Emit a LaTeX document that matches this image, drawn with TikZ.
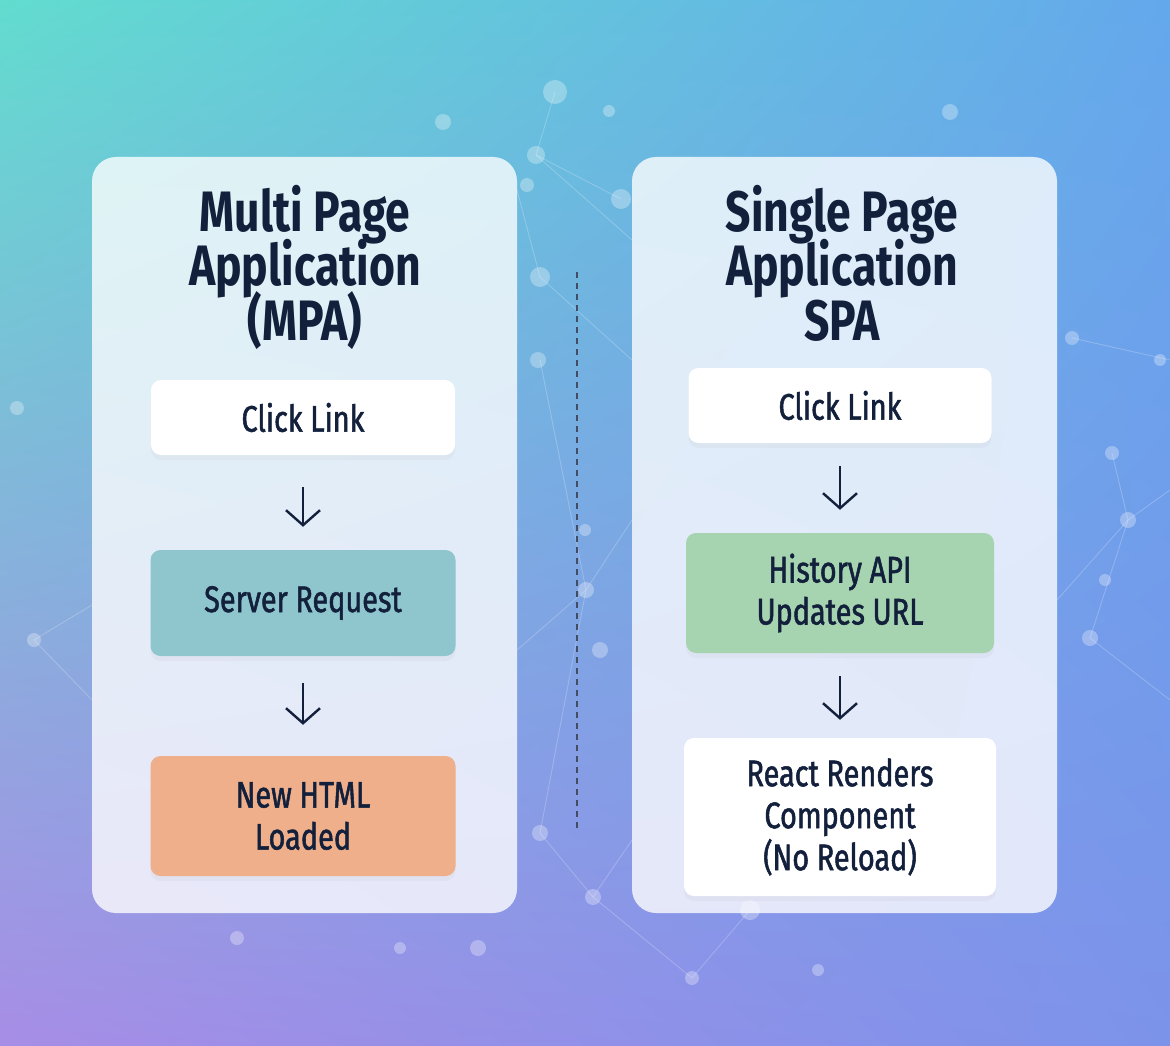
\documentclass[tikz,border=0pt]{standalone}
\usepackage{fontspec}
\setmainfont{Fira Sans}[FakeStretch=0.78]
\newfontfamily\stepfont{Fira Sans}[FakeStretch=0.78, FakeBold=1.4]
\usepackage{tikz}
\usetikzlibrary{arrows.meta,shadows,shadings}
\newcommand\tightlines{\setlength\lineskiplimit{-40pt}}
\definecolor{inkblue}{HTML}{13203C}
\definecolor{bgteal}{HTML}{62DCCF}
\definecolor{bgsky}{HTML}{64A8EC}
\definecolor{bglilac}{HTML}{A78DE6}
\definecolor{bgperi}{HTML}{7C93EA}
\definecolor{srvteal}{HTML}{8FC6CD}
\definecolor{htmlpeach}{HTML}{EEAF8A}
\definecolor{histgreen}{HTML}{A7D4B0}
\tikzset{
  panel/.style    = {fill=white, fill opacity=0.78, rounded corners=24pt},
  stepbox/.style  = {rounded corners=10pt, text=inkblue, align=center, inner sep=0pt,
                     font=\stepfont\fontsize{37}{42}\selectfont\tightlines,
                     drop shadow={opacity=0.06, shadow xshift=0pt, shadow yshift=-5pt}},
  titletext/.style = {text=inkblue, align=center, inner sep=0pt,
                     font=\fontsize{57}{54.5}\selectfont\bfseries\tightlines},
  flowarr/.style  = {-{Straight Barb[length=15pt,width=34pt]}, line width=2.4pt, inkblue},
  divider/.style  = {draw=inkblue!80, line width=1.3pt, dash pattern=on 6pt off 5pt},
  netdot/.style   = {fill=white, fill opacity=0.3},
  netline/.style  = {white, opacity=0.22, line width=0.9pt}
}

\begin{document}
\begin{tikzpicture}[x=1pt,y=-1pt]
  \useasboundingbox (0,0) rectangle (1170,1046);
  \shade[upper left=bgteal, upper right=bgsky, lower left=bglilac, lower right=bgperi]
        (0,0) rectangle (1170,1046);
  % network in the background
  \foreach \a/\b/\c/\d in {34/640/92/605, 34/640/92/700, 1128/520/1170/490,
      1090/638/1128/520, 1112/453/1128/520, 1128/520/1057/600, 1072/338/1170/360,
      593/897/692/978, 540/277/517/190, 536/155/632/240, 540/277/632/360,
      586/590/540/833, 586/590/632/520, 586/590/517/650, 593/897/632/840,
      555/92/536/155, 536/155/621/199, 540/360/586/590, 1090/638/1170/700,
      692/978/750/910, 540/833/593/897}
    \draw[netline] (\a,\b) -- (\c,\d);
  \foreach \a/\b/\r in {555/92/12, 443/122/8, 609/111/6, 950/112/8, 536/155/9,
      527/185/7, 621/199/10, 540/277/10, 538/360/8, 17/408/7, 34/640/7,
      1128/520/8, 1112/453/7, 1072/338/7, 1090/638/8, 1160/360/6, 593/897/8,
      692/978/7, 237/938/7, 400/948/6, 478/948/8, 540/833/8, 586/590/8,
      585/530/6, 600/650/8, 750/910/10, 818/970/6, 1105/580/6}
    \fill[netdot] (\a,\b) circle (\r);
  % panels
  \fill[panel] (92,157) rectangle (517,913);
  \fill[panel] (632,157) rectangle (1057,913);
  \coordinate (divtop) at (577,272);
  \coordinate (divbot) at (577,830);
  \draw[divider] (divtop) -- (divbot);
  % titles
  \node[titletext,anchor=north] (mtitle) at (305,185) {Multi Page\\Application\\(MPA)};
  \node[titletext,anchor=north] (stitle) at (842,185) {Single Page\\Application\\SPA};
  % MPA steps
  \node[stepbox,fill=white,minimum width=304pt,minimum height=75pt] (mclick) at (303,417.5) {Click Link};
  \node[stepbox,fill=srvteal,minimum width=305pt,minimum height=106pt] (mserver) at (303,603) {Server Request};
  \node[stepbox,fill=htmlpeach,minimum width=305pt,minimum height=120pt] (mhtml) at (303,816) {New HTML\\Loaded};
  % SPA steps
  \node[stepbox,fill=white,minimum width=303pt,minimum height=75pt] (sclick) at (840,405.5) {Click Link};
  \node[stepbox,fill=histgreen,minimum width=308pt,minimum height=120pt] (shist) at (840,593) {History API\\Updates URL};
  \node[stepbox,fill=white,minimum width=312pt,minimum height=158pt] (srender) at (840,817) {React Renders\\Component\\(No Reload)};
  % arrows
  \draw[flowarr,shorten <=32pt,shorten >=23pt] (mclick) -- (mserver);
  \draw[flowarr,shorten <=27pt,shorten >=31pt] (mserver) -- (mhtml);
  \draw[flowarr,shorten <=23pt,shorten >=23pt] (sclick) -- (shist);
  \draw[flowarr,shorten <=23pt,shorten >=18pt] (shist) -- (srender);
\end{tikzpicture}
\end{document}
